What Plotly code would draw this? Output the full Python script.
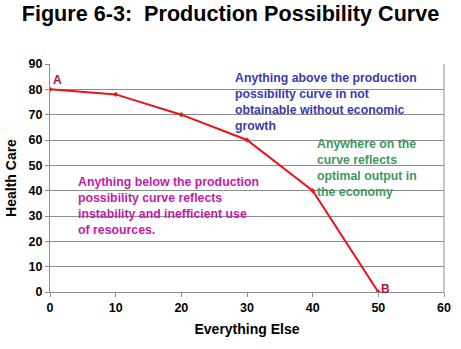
import plotly.graph_objects as go

# Production possibility curve: everything else vs. health care
everything_else = [0, 10, 20, 30, 40, 50]
health_care = [80, 78, 70, 60, 40, 0]

x_ticks = [0, 10, 20, 30, 40, 50, 60]
y_ticks = [0, 10, 20, 30, 40, 50, 60, 70, 80, 90]

FONT = "Liberation Sans, Arial, sans-serif"

fig = go.Figure()
fig.add_trace(go.Scatter(
    x=everything_else, y=health_care, mode="lines+markers",
    line=dict(color="#E8141B", width=2),
    marker=dict(color="#E8141B", size=4, symbol="diamond"),
    hoverinfo="skip", showlegend=False,
))

notes = [
    dict(x=27.8, y=88.0, color="#3B3BAE",
         text="Anything above the production<br>possibility curve in not<br>obtainable without economic<br>growth"),
    dict(x=40.3, y=62.0, color="#3E9A5C",
         text="Anywhere on the<br>curve reflects<br>optimal output in<br>the economy"),
    dict(x=4.0, y=47.0, color="#C41AA8",
         text="Anything below the production<br>possibility curve reflects<br>instability and inefficient use<br>of resources."),
]
for n in notes:
    fig.add_annotation(x=n["x"], y=n["y"], xref="x", yref="y", text=n["text"],
                       showarrow=False, xanchor="left", yanchor="top", align="left",
                       font=dict(family=FONT, size=12.3, color=n["color"], weight="bold"))

# Endpoint labels
fig.add_annotation(x=everything_else[0], y=health_care[0], text="A", showarrow=False,
                   xanchor="left", yanchor="bottom", xshift=1, yshift=0,
                   font=dict(family=FONT, size=12, color="#B0123F", weight="bold"))
fig.add_annotation(x=everything_else[-1], y=health_care[-1], text="B", showarrow=False,
                   xanchor="left", yanchor="bottom", xshift=1, yshift=-6,
                   font=dict(family=FONT, size=12, color="#B0123F", weight="bold"))

axis_common = dict(
    showline=True, linecolor="#8C8C8C", linewidth=1, mirror=False,
    ticks="outside", ticklen=4, tickcolor="#8C8C8C",
    tickfont=dict(family=FONT, size=12.5, color="#000000", weight="bold"),
    zeroline=False,
)
fig.update_xaxes(range=[0, 60], tickvals=x_ticks, showgrid=False,
                 title=dict(text="Everything Else",
                            font=dict(family=FONT, size=14, color="#000", weight="bold"),
                            standoff=10),
                 **axis_common)
fig.update_yaxes(range=[0, 90], tickvals=y_ticks, showgrid=True, gridcolor="#8C8C8C", gridwidth=1,
                 title=dict(text="Health Care",
                            font=dict(family=FONT, size=14, color="#000", weight="bold"),
                            standoff=8),
                 **axis_common)

# Right border of the plot area
fig.add_shape(type="line", xref="paper", yref="paper", x0=1, x1=1, y0=0, y1=1,
              line=dict(color="#8C8C8C", width=1))

fig.update_layout(
    width=461, height=349,
    margin=dict(l=50, r=10, t=64, b=57),
    paper_bgcolor="white", plot_bgcolor="white",
    title=dict(text="Figure 6-3:  Production Possibility Curve",
               font=dict(family=FONT, size=21.6, color="#000", weight="bold"),
               x=0.5, xanchor="center", y=0.962, yanchor="middle"),
)

fig.write_html("out.html")
